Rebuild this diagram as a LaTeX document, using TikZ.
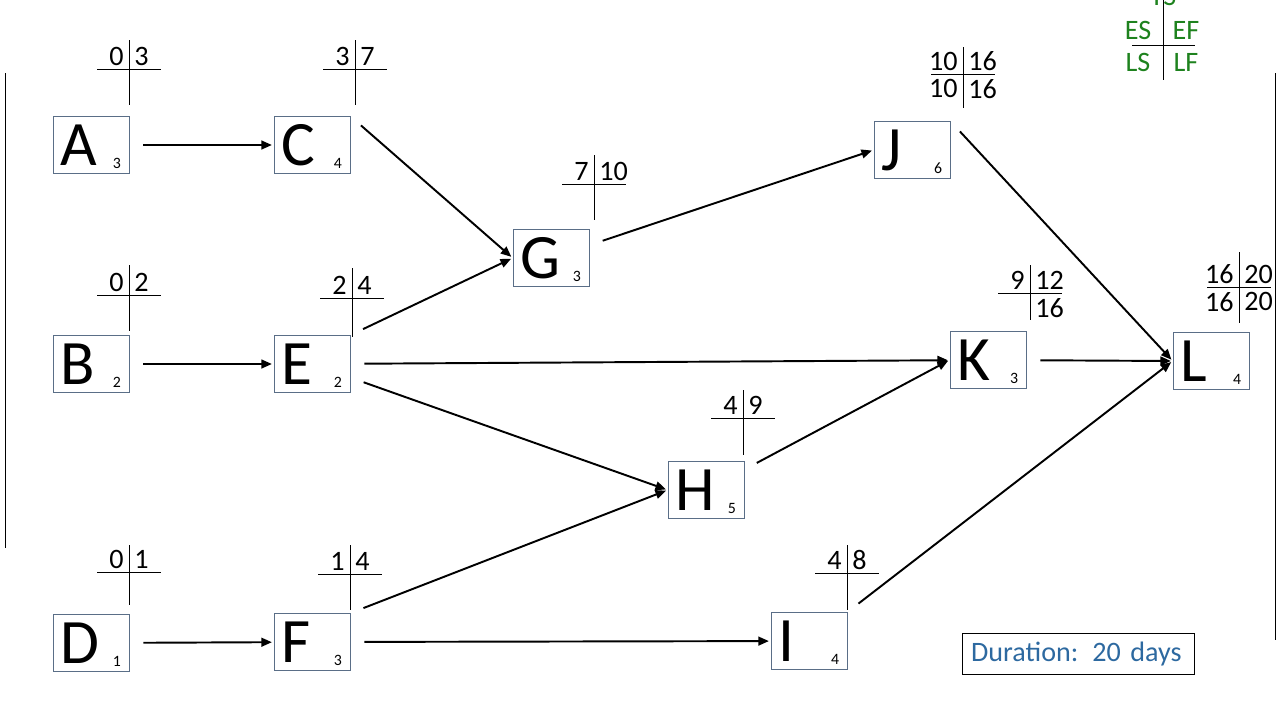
\documentclass[tikz,border=0pt]{standalone}
\usepackage{fontspec}
\setmainfont{Carlito}
\usetikzlibrary{positioning, arrows.meta}
\definecolor{boxline}{RGB}{90, 110, 135}
\definecolor{legendgreen}{RGB}{30, 130, 30}
\definecolor{durblue}{RGB}{45, 105, 160}
\tikzset{
    task/.style={draw=boxline, minimum width=76*0.02cm, minimum height=57*0.02cm, inner sep=0pt, text width=62*0.02cm, align=left, font=\fontsize{36}{36}\selectfont, text depth=0pt},
    wgt/.style={font=\fontsize{9}{9}\selectfont, inner sep=0pt, anchor=south east},
    num/.style={font=\fontsize{16}{16}\selectfont, inner sep=0pt},
    conn/.style={-{Triangle[length=6pt, width=5pt]}, line width=1.1pt, shorten <=8pt, shorten >=1pt},
}
% cross: x, y of the middle, top of stem, bottom of stem, ES, EF
\newcommand{\cpmcross}[7]{%
  \draw (#1-32,#2) -- (#1+32,#2);
  \draw (#1,#3) -- (#1,#4);
  \node [num, anchor=south east] (#7es) at (#1-5,#2-3) {#5};
  \node [num, anchor=south west] (#7ef) at (#1+5,#2-3) {#6};
}
\begin{document}
\begin{tikzpicture}[x=0.02cm, y=-0.02cm]
    \useasboundingbox (0,0) rectangle (1280,720);

    % frame bits at the edges
    \draw (5,73) -- (5,548);
    \draw (1275,73) -- (1275,640);

    \node [task] (A) at (91,145) {A};
    \node [task] (C) at (312,145) {C};
    \node [task] (G) at (551,258) {G};
    \node [task] (J) at (912,150) {J};
    \node [task] (B) at (91,364) {B};
    \node [task] (E) at (312,364) {E};
    \node [task] (K) at (988,360) {K};
    \node [task] (L) at (1211,361) {L};
    \node [task] (H) at (706,490) {H};
    \node [task] (D) at (91,643) {D};
    \node [task] (F) at (312,642) {F};
    \node [task] (I) at (809,641) {I};

    \foreach \t/\w in {A/3, C/4, G/3, J/6, B/2, E/2, K/3, L/4, H/5, D/1, F/3, I/4}
        \node [wgt] (w\t) at ([xshift=-8*0.02cm, yshift=5*0.02cm]\t.south east) {\w};

    \cpmcross{129}{69}{40}{105}{0}{3}{crA}
    \cpmcross{355}{69}{40}{105}{3}{7}{crC}
    \cpmcross{594}{184}{155}{220}{7}{10}{crG}
    \cpmcross{963}{74}{47}{108}{10}{16}{crJ}
    \cpmcross{129}{295}{265}{331}{0}{2}{crB}
    \cpmcross{352}{298}{268}{337}{2}{4}{crE}
    \cpmcross{1030}{293}{265}{320}{9}{12}{crK}
    \cpmcross{1239}{287}{252}{323}{16}{20}{crL}
    \cpmcross{743}{418}{390}{455}{4}{9}{crH}
    \cpmcross{129}{572}{545}{605}{0}{1}{crD}
    \cpmcross{350}{574}{545}{610}{1}{4}{crF}
    \cpmcross{847}{573}{545}{610}{4}{8}{crI}

    \node [num, anchor=north east] (crJls) at (958,79) {10};
    \node [num, anchor=north west] (crJlf) at (968,79) {16};
    \node [num, anchor=north west] (crKlf) at (1035,298) {16};
    \node [num, anchor=north east] (crLls) at (1234,292) {16};
    \node [num, anchor=north west] (crLlf) at (1244,292) {20};

    % legend
    \begin{scope}[legendgreen, font=\fontsize{16}{16}\selectfont]
        \draw [black] (1132,45) -- (1195,45);
        \draw [black] (1163,0) -- (1163,80);
        \node [anchor=south] (ts) at (1163,12) {TS};
        \node (es) at (1138,30) {ES};
        \node (ef) at (1186,30) {EF};
        \node (ls) at (1138,62) {LS};
        \node (lf) at (1186,62) {LF};
    \end{scope}

    \node [draw, minimum height=41*0.02cm, text=durblue, font=\fontsize{16}{16}\selectfont, anchor=west, inner sep=0pt, text width=214*0.02cm, align=left, inner xsep=5pt] (dur) at (962,654) {Duration: 20 days};

    \draw [conn] (A) -- (C);
    \draw [conn] (B) -- (E);
    \draw [conn] (D) -- (F);
    \draw [conn] (C.north east) -- (G.west);
    \draw [conn] (E.north east) -- (G.west);
    \draw [conn] (E) -- (K);
    \draw [conn] (E) -- (H.west);
    \draw [conn] (F.north east) -- (H.west);
    \draw [conn] (F) -- (I);
    \draw [conn] (G) -- (J.west);
    \draw [conn] (H) -- (K.west);
    \draw [conn] (J.north east) -- (L.west);
    \draw [conn] (K) -- (L.west);
    \draw [conn] (I.north east) -- (L.west);
\end{tikzpicture}
\end{document}
